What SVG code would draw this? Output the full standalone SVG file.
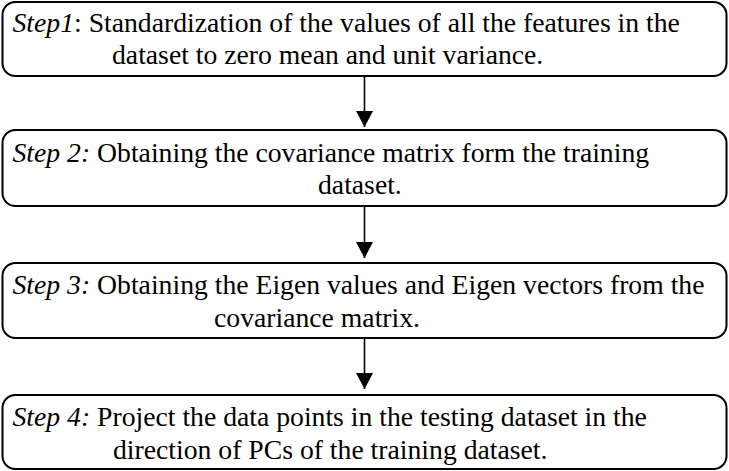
<svg xmlns="http://www.w3.org/2000/svg" width="729" height="471" viewBox="0 0 729 471">
<style>
.box{fill:#fff;stroke:#000;stroke-width:2}
.t{font-family:'Liberation Serif','Times New Roman',Times,serif;font-size:27.7px;fill:#000}
.i{font-style:italic}
.c{stroke:#000;stroke-width:1.6;fill:none}
</style>
<defs>
<marker id="ah" viewBox="0 0 16 17" refX="16" refY="8.5" markerWidth="16" markerHeight="17" markerUnits="userSpaceOnUse" orient="auto">
<path d="M0,0 L16,8.5 L0,17 Z" fill="#000"/>
</marker>
</defs>
<rect width="729" height="471" fill="#fff"/>
<g id="connectors">
<line class="c" x1="364.5" y1="76" x2="364.5" y2="127" marker-end="url(#ah)"/>
<line class="c" x1="364.5" y1="206" x2="364.5" y2="258" marker-end="url(#ah)"/>
<line class="c" x1="364.5" y1="338" x2="364.5" y2="389" marker-end="url(#ah)"/>
</g>
<g id="step1">
<rect class="box" x="2.5" y="2" width="724" height="74" rx="13"/>
<text class="t" x="12.5" y="31.5"><tspan class="i">Step1</tspan>: Standardization of the values of all the features in the</text>
<text class="t" x="112" y="63.5">dataset to zero mean and unit variance.</text>
</g>
<g id="step2">
<rect class="box" x="2.5" y="130" width="724" height="76" rx="13"/>
<text class="t" x="12.5" y="162"><tspan class="i">Step 2:</tspan> Obtaining the covariance matrix form the training</text>
<text class="t" x="318" y="194">dataset.</text>
</g>
<g id="step3">
<rect class="box" x="2.5" y="263" width="724" height="75" rx="13"/>
<text class="t" x="12.5" y="294"><tspan class="i">Step 3:</tspan> Obtaining the Eigen values and Eigen vectors from the</text>
<text class="t" x="214" y="326.5">covariance matrix.</text>
</g>
<g id="step4">
<rect class="box" x="2.5" y="395" width="724" height="74" rx="13"/>
<text class="t" x="12.5" y="426"><tspan class="i">Step 4:</tspan> Project the data points in the testing dataset in the</text>
<text class="t" x="113" y="458.5">direction of PCs of the training dataset.</text>
</g>
</svg>
